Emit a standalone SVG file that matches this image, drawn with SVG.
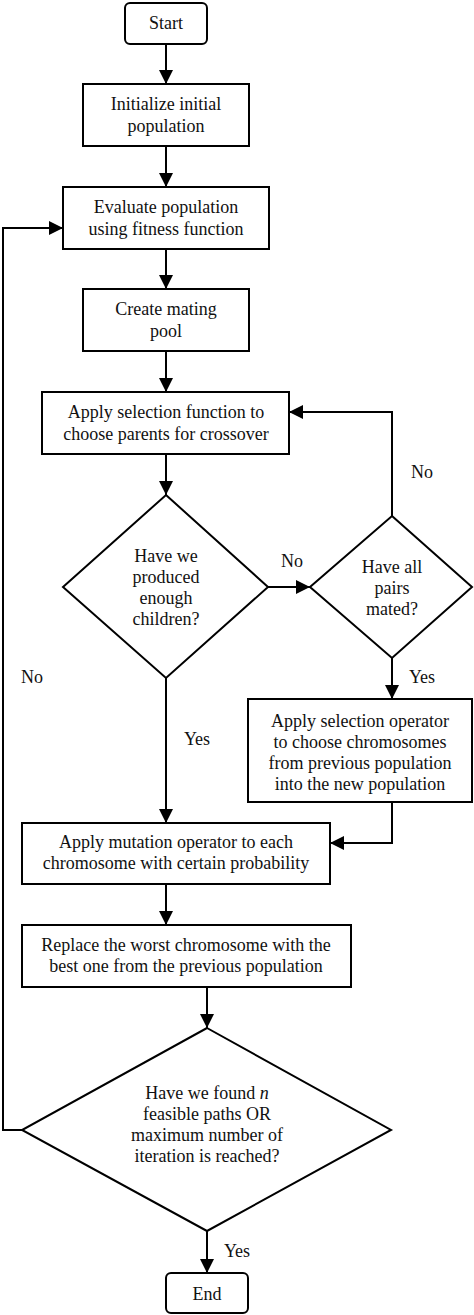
<svg xmlns="http://www.w3.org/2000/svg" width="474" height="1315" viewBox="0 0 474 1315">
<style>
.n{fill:#fff;stroke:#000;stroke-width:2}
.t{font-family:"Liberation Serif","Times New Roman",serif;font-size:18px;fill:#111;text-anchor:middle}
.c{fill:none;stroke:#000;stroke-width:2}
</style>
<defs>
<marker id="a" markerUnits="userSpaceOnUse" markerWidth="14" markerHeight="14" refX="14" refY="7" orient="auto"><path d="M0,0 L14,7 L0,14 Z" fill="#000"/></marker>
</defs>
<rect width="474" height="1315" fill="#fff"/>
<g id="connectors">
<path class="c" d="M166,44 V84" marker-end="url(#a)"/>
<path class="c" d="M166,146 V187" marker-end="url(#a)"/>
<path class="c" d="M166,249 V289" marker-end="url(#a)"/>
<path class="c" d="M166,351 V392" marker-end="url(#a)"/>
<path class="c" d="M166,454 V495" marker-end="url(#a)"/>
<path class="c" d="M268,587 H310" marker-end="url(#a)"/>
<path class="c" d="M392,516 V412 H289" marker-end="url(#a)"/>
<path class="c" d="M392,658 V699" marker-end="url(#a)"/>
<path class="c" d="M166,678 V823" marker-end="url(#a)"/>
<path class="c" d="M392,802 V843 H330" marker-end="url(#a)"/>
<path class="c" d="M166,884 V925" marker-end="url(#a)"/>
<path class="c" d="M207,987 V1028" marker-end="url(#a)"/>
<path class="c" d="M22,1130 H3 V228 H63" marker-end="url(#a)"/>
<path class="c" d="M207,1231 V1273" marker-end="url(#a)"/>
<text class="t" x="292" y="567">No</text>
<text class="t" x="422" y="478">No</text>
<text class="t" x="422" y="683">Yes</text>
<text class="t" x="197" y="745">Yes</text>
<text class="t" x="32" y="683">No</text>
<text class="t" x="237" y="1257">Yes</text>
</g>
<g id="start"><rect class="n" x="125" y="3" width="82" height="41" rx="5"/><text class="t" x="166" y="29">Start</text></g>
<g id="init"><rect class="n" x="83" y="84" width="166" height="62"/><text class="t" x="166" y="110">Initialize initial</text><text class="t" x="166" y="132">population</text></g>
<g id="evaluate"><rect class="n" x="63" y="187" width="206" height="62"/><text class="t" x="166" y="213">Evaluate population</text><text class="t" x="166" y="235">using fitness function</text></g>
<g id="mating"><rect class="n" x="83" y="289" width="166" height="62"/><text class="t" x="166" y="315">Create mating</text><text class="t" x="166" y="337">pool</text></g>
<g id="selectfn"><rect class="n" x="42" y="392" width="247" height="62"/><text class="t" x="166" y="418">Apply selection function to</text><text class="t" x="166" y="440">choose parents for crossover</text></g>
<g id="enough"><polygon class="n" points="166,495 268,587 166,678 63,587"/><text class="t" x="166" y="562">Have we</text><text class="t" x="166" y="583">produced</text><text class="t" x="166" y="604">enough</text><text class="t" x="166" y="625">children?</text></g>
<g id="mated"><polygon class="n" points="392,516 472,587 392,658 310,587"/><text class="t" x="392" y="573">Have all</text><text class="t" x="392" y="594">pairs</text><text class="t" x="392" y="615">mated?</text></g>
<g id="selectop"><rect class="n" x="248" y="699" width="224" height="103"/><text class="t" x="360" y="727">Apply selection operator</text><text class="t" x="360" y="748">to choose chromosomes</text><text class="t" x="360" y="769">from previous population</text><text class="t" x="360" y="790">into the new population</text></g>
<g id="mutation"><rect class="n" x="22" y="823" width="308" height="61"/><text class="t" x="176" y="848">Apply mutation operator to each</text><text class="t" x="176" y="869">chromosome with certain probability</text></g>
<g id="replace"><rect class="n" x="22" y="925" width="329" height="62"/><text class="t" x="186" y="951">Replace the worst chromosome with the</text><text class="t" x="186" y="972">best one from the previous population</text></g>
<g id="found"><polygon class="n" points="207,1028 391,1130 207,1231 22,1130"/><text class="t" x="207" y="1099">Have we found <tspan font-style="italic">n</tspan></text><text class="t" x="207" y="1120">feasible paths OR</text><text class="t" x="207" y="1141">maximum number of</text><text class="t" x="207" y="1162">iteration is reached?</text></g>
<g id="end"><rect class="n" x="166" y="1273" width="82" height="40" rx="5"/><text class="t" x="207" y="1300">End</text></g>
</svg>
